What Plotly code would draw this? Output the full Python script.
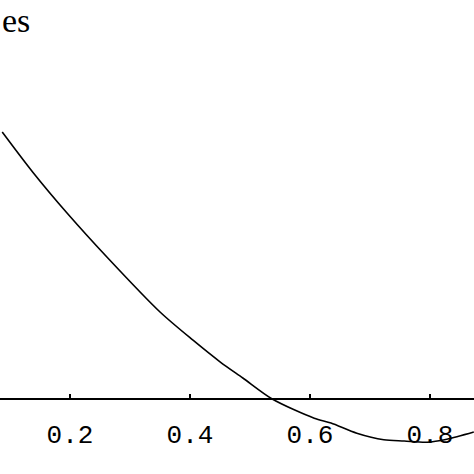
import plotly.graph_objects as go

# curve (arbitrary y units, axis at y = 0)
x_vals = [0.087, 0.138, 0.195, 0.263, 0.350, 0.405, 0.450, 0.488, 0.537,
          0.607, 0.635, 0.678, 0.723, 0.757, 0.795, 0.828, 0.873]
y_vals = [0.445, 0.378, 0.310, 0.235, 0.145, 0.098, 0.062, 0.035, 0.000,
          -0.032, -0.040, -0.057, -0.068, -0.070, -0.072, -0.067, -0.055]

tick_vals = [0.2, 0.4, 0.6, 0.8]
tick_text = ["0.2", "0.4", "0.6", "0.8"]

fig = go.Figure()
fig.add_trace(go.Scatter(
    x=x_vals, y=y_vals, mode="lines",
    line=dict(color="black", width=1.6, shape="spline", smoothing=0.8),
    hoverinfo="skip", showlegend=False
))

fig.update_layout(
    width=474, height=474,
    margin=dict(l=0, r=0, t=0, b=0, autoexpand=False),
    plot_bgcolor="white", paper_bgcolor="white",
    xaxis=dict(
        range=[0.0833, 0.8733],
        anchor="free", position=75 / 474, automargin=False,
        showline=True, linecolor="black", linewidth=2,
        showgrid=False, zeroline=False,
        ticks="inside", ticklen=4, tickwidth=1.5, tickcolor="black",
        tickvals=tick_vals, ticktext=tick_text,
        tickfont=dict(family="Liberation Mono", size=26, color="black"),
        ticklabelstandoff=12,
    ),
    yaxis=dict(
        range=[-0.125, 0.665], automargin=False,
        visible=False, showgrid=False, zeroline=False,
    ),
    annotations=[dict(
        text="es", xref="paper", yref="paper", x=0.0, y=1.0,
        xanchor="left", yanchor="top", showarrow=False,
        font=dict(family="Liberation Serif", size=34, color="black"),
    )],
)

# drop the default 8px body margin so the figure fills the window
fig.write_html("out.html", config={"displayModeBar": False},
               post_script="document.body.style.margin='0';")
